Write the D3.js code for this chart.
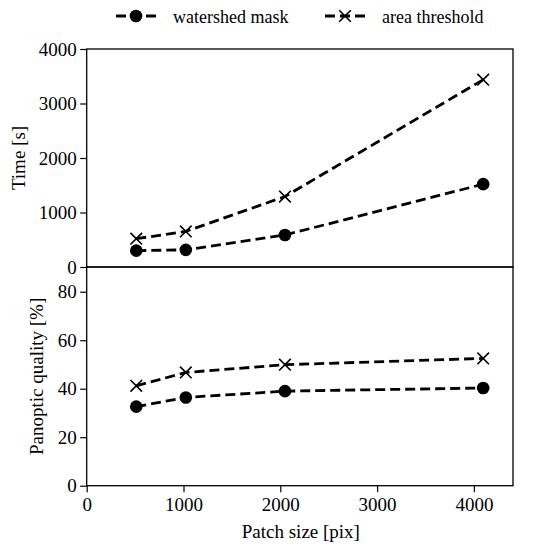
<!DOCTYPE html>
<html>
<head>
<meta charset="utf-8">
<title>Time and panoptic quality vs patch size</title>
<script src="https://cdn.jsdelivr.net/npm/d3@7"></script>
<style>
    body { margin: 0; background: white; }
    .axis path, .axis line { stroke: black; stroke-width: 1.2; }
</style>
</head>
<body>
<svg id="chart" width="548" height="550"></svg>
<script>
// data
var patchSizes = [512, 1024, 2048, 4096];
var timeWatershed = [300, 315, 587, 1520];
var timeArea = [519, 653, 1293, 3437];
var pqWatershed = [32.6, 36.4, 39.0, 40.3];
var pqArea = [41.2, 46.7, 49.9, 52.5];
var timeTicks = [0, 1000, 2000, 3000, 4000];
var pqTicks = [0, 20, 40, 60, 80];
var xTicks = [0, 1000, 2000, 3000, 4000];
var seriesNames = ['watershed mask', 'area threshold'];

var svg = d3.select('#chart');
var left = 86.7, right = 513;
var topPanel = {top: 49, bottom: 267};
var botPanel = {top: 267, bottom: 485.7};

var x = d3.scaleLinear().domain([0, 4404]).range([left, right]);
var yTime = d3.scaleLinear().domain([0, 4000]).range([topPanel.bottom, topPanel.top]);
var yPq = d3.scaleLinear().domain([0, 90.2]).range([botPanel.bottom, botPanel.top]);
var fmt = d3.format('d');

//panel frames
[topPanel, botPanel].forEach(function (p) {
    svg.append('rect')
        .attr('x', left).attr('y', p.top)
        .attr('width', right - left).attr('height', p.bottom - p.top)
        .attr('fill', 'none').attr('stroke', 'black').attr('stroke-width', 1.3);
});

//axes
svg.append('g').attr('class', 'axis')
    .attr('transform', 'translate(' + left + ',0)')
    .call(d3.axisLeft(yTime).tickValues(timeTicks).tickFormat(fmt).tickSize(6.5).tickPadding(3.5).tickSizeOuter(0));
svg.append('g').attr('class', 'axis')
    .attr('transform', 'translate(' + left + ',0)')
    .call(d3.axisLeft(yPq).tickValues(pqTicks).tickFormat(fmt).tickSize(6.5).tickPadding(3.5).tickSizeOuter(0));
svg.append('g').attr('class', 'axis')
    .attr('transform', 'translate(0,' + botPanel.bottom + ')')
    .call(d3.axisBottom(x).tickValues(xTicks).tickFormat(fmt).tickSize(6.5).tickPadding(5).tickSizeOuter(0));
svg.selectAll('.axis .domain').remove();
svg.selectAll('.axis text').attr('fill', 'black').attr('font-size', 19);

//axis titles
svg.append('text')
    .attr('transform', 'translate(25,' + (topPanel.top + topPanel.bottom) / 2 + ') rotate(-90)')
    .attr('text-anchor', 'middle').attr('font-size', 19)
    .text('Time [s]');
svg.append('text')
    .attr('transform', 'translate(43,' + (botPanel.top + botPanel.bottom) / 2 + ') rotate(-90)')
    .attr('text-anchor', 'middle').attr('font-size', 19)
    .text('Panoptic quality [%]');
svg.append('text')
    .attr('x', (left + right) / 2 + 1).attr('y', 538)
    .attr('text-anchor', 'middle').attr('font-size', 19)
    .text('Patch size [pix]');

function drawSeries(values, yScale, marker) {
    var pts = patchSizes.map(function (s, i) { return [x(s), yScale(values[i])]; });
    svg.append('path')
        .attr('d', d3.line()(pts))
        .attr('fill', 'none').attr('stroke', 'black')
        .attr('stroke-width', 2.8).attr('stroke-dasharray', '10,5');
    pts.forEach(function (p) { drawMarker(p[0], p[1], marker); });
}

function drawMarker(cx, cy, marker) {
    if (marker === 'circle') {
        svg.append('circle').attr('cx', cx).attr('cy', cy).attr('r', 6.3).attr('fill', 'black');
    } else {
        var s = 5.8;
        svg.append('path')
            .attr('d', 'M' + (cx - s) + ',' + (cy - s) + 'L' + (cx + s) + ',' + (cy + s) +
                'M' + (cx - s) + ',' + (cy + s) + 'L' + (cx + s) + ',' + (cy - s))
            .attr('stroke', 'black').attr('stroke-width', 1.6).attr('fill', 'none');
    }
}

drawSeries(timeWatershed, yTime, 'circle');
drawSeries(timeArea, yTime, 'x');
drawSeries(pqWatershed, yPq, 'circle');
drawSeries(pqArea, yPq, 'x');

//legend
var legendX = [116, 325];
var markers = ['circle', 'x'];
seriesNames.forEach(function (name, i) {
    var lx = legendX[i], ly = 16;
    svg.append('line')
        .attr('x1', lx).attr('x2', lx + 40).attr('y1', ly).attr('y2', ly)
        .attr('stroke', 'black').attr('stroke-width', 2.8).attr('stroke-dasharray', '10,5');
    drawMarker(lx + 20, ly, markers[i]);
    svg.append('text')
        .attr('x', lx + 57).attr('y', ly + 6.5)
        .attr('font-size', 18)
        .text(name);
});

//serif everywhere, like the matplotlib figure
svg.selectAll('text').style('font-family', "'Liberation Serif'");
</script>
</body>
</html>
